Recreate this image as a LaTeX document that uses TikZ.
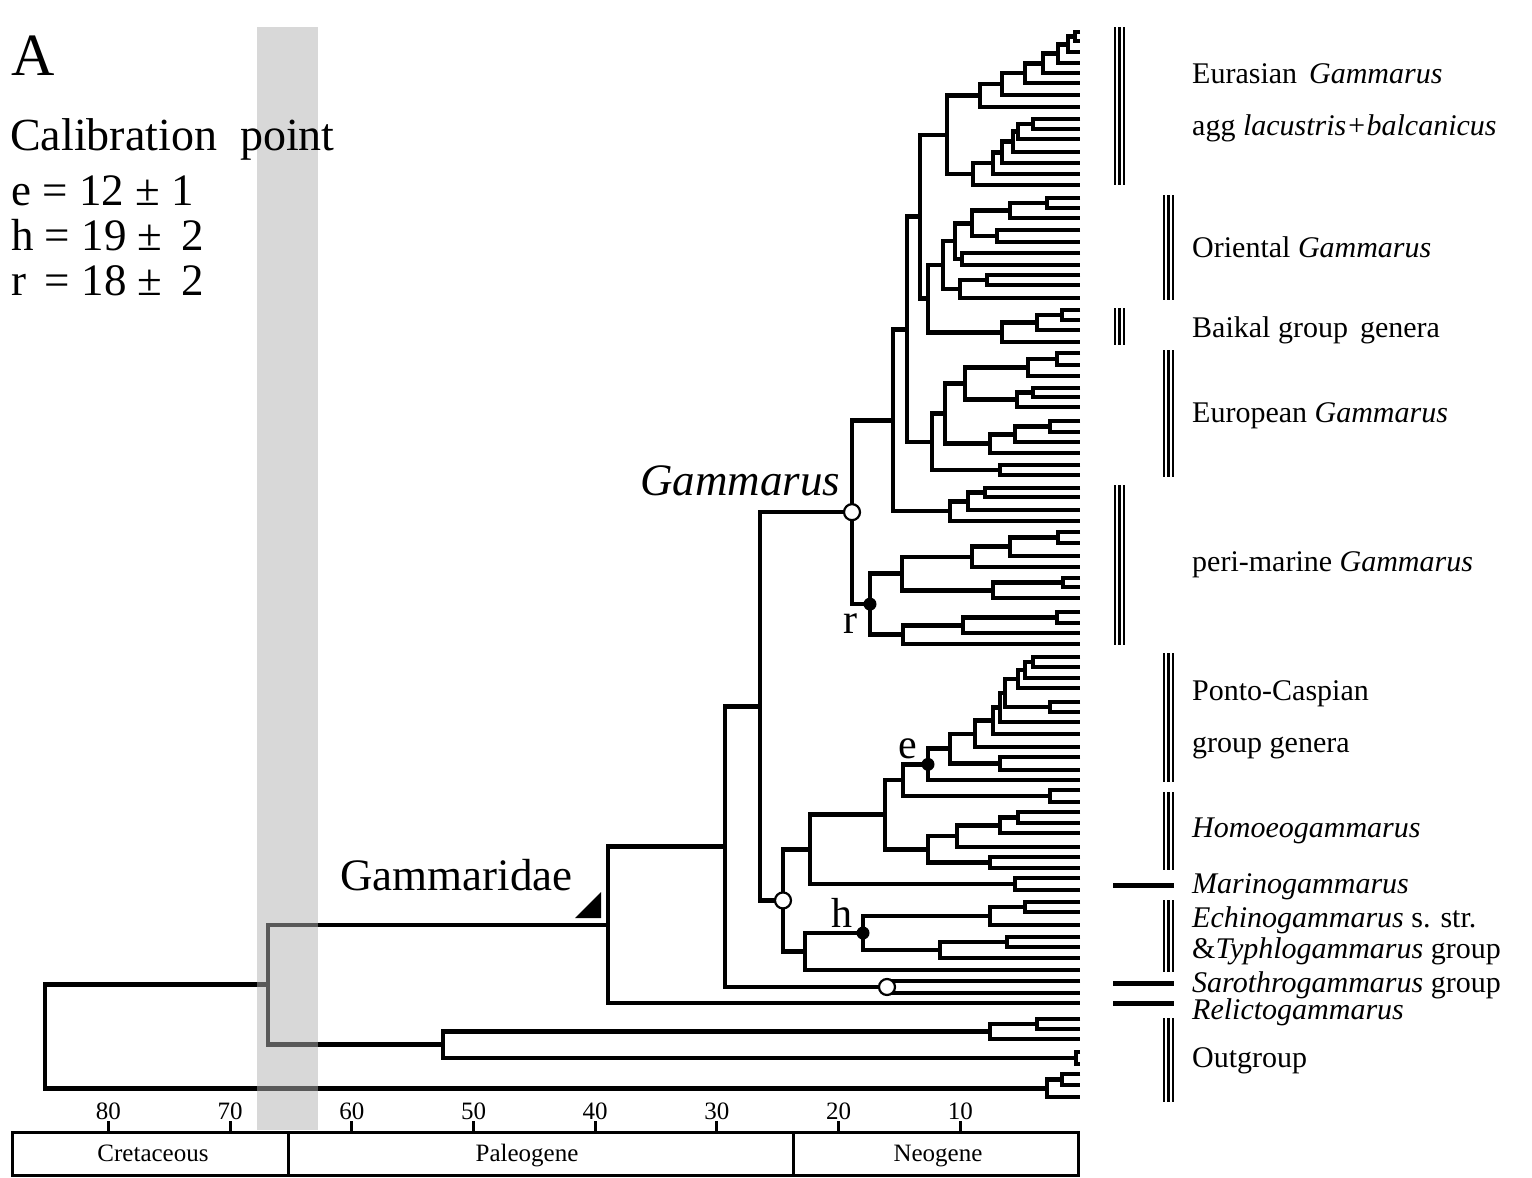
\documentclass[tikz,border=0pt]{standalone}
\usepackage{fontspec}
\setmainfont{Liberation Serif}
\usetikzlibrary{calc}
\newcommand\myfs[1]{\fontsize{#1}{#1}\selectfont}
\definecolor{bandc}{gray}{0.70}
% internal tree node: name, x, upper child, lower child
\newcommand\inode[4]{%
  \path let \p1=(#3), \p2=(#4) in coordinate (#1) at ({#2pt},{(\y1+\y2)/2});
  \draw[br] (#3) -- (#1 |- #3) -- (#1 |- #4) -- (#4);
}
\newcommand\tribar[3]{\foreach \dx in {0,4.5,9} \draw[barl] ({#1+\dx},#2) -- ({#1+\dx},#3);}
\begin{document}
\begin{tikzpicture}[x=1pt,y=-1pt,
  br/.style={line width=4.6pt, line join=miter},
  barl/.style={line width=2.2pt},
  hbar/.style={line width=5pt},
  lab/.style={anchor=base west, inner sep=0pt, font=\myfs{30}},
  big/.style={anchor=base west, inner sep=0pt, font=\myfs{45}},
  opencirc/.style={circle, draw, fill=white, line width=2.2pt, minimum size=16pt, inner sep=0pt},
  fillcirc/.style={circle, fill=black, minimum size=13pt, inner sep=0pt},
  axl/.style={line width=3pt},
  tickl/.style={line width=3pt},
  ticklab/.style={anchor=base, inner sep=0pt, font=\myfs{25}}]
\useasboundingbox (0,0) rectangle (1532,1178);
\fill[white] (0,0) rectangle (1532,1178);

% tips
\foreach \y in {32,41,52,63,73,83,95,107,119,129,139,152,163,174,185,
  198,208,218,230,242,253,265,275,285,298,310,320,330,342,
  353,365,376,388,397,407,421,432,442,453,465,475,488,497,510,521,
  532,543,556,567,578,587,598,612,623,633,644,
  657,667,678,688,702,712,722,734,747,757,770,780,790,802,
  812,823,833,847,857,868,878,890,902,912,925,937,947,958,970,
  981,993,1003,1019,1029,1039,1052,1064,1074,1085,1097}
  \coordinate (t\y) at (1080,\y);

% Eurasian
\inode{A6}{1075}{t32}{t41}
\inode{A5}{1068}{A6}{t52}
\inode{A4}{1058}{A5}{t63}
\inode{A3}{1043}{A4}{t73}
\inode{A2}{1025}{A3}{t83}
\inode{A1}{1002}{A2}{t95}
\inode{A0}{980}{A1}{t107}
\inode{L5}{1033}{t119}{t129}
\inode{L4}{1018}{L5}{t139}
\inode{L3}{1013}{L4}{t152}
\inode{L2}{1002}{L3}{t163}
\inode{L1}{993}{L2}{t174}
\inode{L0}{973}{L1}{t185}
\inode{EU}{947}{A0}{L0}
% Oriental
\inode{O1}{1047}{t198}{t208}
\inode{O2}{1010}{O1}{t218}
\inode{O3}{997}{t230}{t242}
\inode{O4}{972}{O2}{O3}
\inode{O5}{962}{t253}{t265}
\inode{O6}{955}{O4}{O5}
\inode{O7}{987}{t275}{t285}
\inode{O8}{960}{O7}{t298}
\inode{O9}{943}{O6}{O8}
% Baikal
\inode{B1}{1062}{t310}{t320}
\inode{B2}{1037}{B1}{t330}
\inode{B3}{1002}{B2}{t342}
\inode{OB}{928}{O9}{B3}
\inode{N920}{920}{EU}{OB}
% European
\inode{E1}{1057}{t353}{t365}
\inode{E2}{1028}{E1}{t376}
\inode{E3}{1033}{t388}{t397}
\inode{E4}{1017}{E3}{t407}
\inode{E5}{965}{E2}{E4}
\inode{E6}{1050}{t421}{t432}
\inode{E7}{1015}{E6}{t442}
\inode{E8}{990}{E7}{t453}
\inode{E9}{945}{E5}{E8}
\inode{E10}{1000}{t465}{t475}
\inode{E11}{932}{E9}{E10}
\inode{N907}{907}{N920}{E11}
% small clade
\inode{S1}{985}{t488}{t497}
\inode{S2}{968}{S1}{t510}
\inode{S3}{950}{S2}{t521}
\inode{N893}{893}{N907}{S3}
% r clade
\inode{R1}{1058}{t532}{t543}
\inode{R2}{1010}{R1}{t556}
\inode{R3}{972}{R2}{t567}
\inode{R4}{1063}{t578}{t587}
\inode{R5}{993}{R4}{t598}
\inode{R6}{902}{R3}{R5}
\inode{R7}{1057}{t612}{t623}
\inode{R8}{963}{R7}{t633}
\inode{R9}{903}{R8}{t644}
\inode{Rn}{870}{R6}{R9}
\inode{GAM}{852}{N893}{Rn}
% Ponto-Caspian
\inode{P1}{1033}{t657}{t667}
\inode{P2}{1025}{P1}{t678}
\inode{P3}{1018}{P2}{t688}
\inode{P4}{1050}{t702}{t712}
\inode{P5}{1005}{P3}{P4}
\inode{P6}{1000}{P5}{t722}
\inode{P7}{993}{P6}{t734}
\inode{P8}{975}{P7}{t747}
\inode{P9}{1000}{t757}{t770}
\inode{P10}{950}{P8}{P9}
\inode{Pe}{928}{P10}{t780}
\inode{P11}{1050}{t790}{t802}
\inode{P12}{903}{Pe}{P11}
% Homoeogammarus
\inode{H1}{1018}{t812}{t823}
\inode{H2}{1000}{H1}{t833}
\inode{H3}{957}{H2}{t847}
\inode{H4}{990}{t857}{t868}
\inode{H5}{928}{H3}{H4}
\inode{N885}{885}{P12}{H5}
\inode{Ma}{1015}{t878}{t890}
\inode{N810}{810}{N885}{Ma}
% Echinogammarus
\inode{Ec1}{1025}{t902}{t912}
\inode{Ec2}{990}{Ec1}{t925}
\inode{Ec3}{1007}{t937}{t947}
\inode{Ec4}{940}{Ec3}{t958}
\inode{Hn}{863}{Ec2}{Ec4}
\inode{Ec5}{805}{Hn}{t970}
\inode{C2}{783}{N810}{Ec5}
\inode{N760}{760}{GAM}{C2}
\inode{Sa}{887}{t981}{t993}
\inode{N725}{725}{N760}{Sa}
\inode{N608}{608}{N725}{t1003}
% Outgroup
\inode{Oa}{1037}{t1019}{t1029}
\inode{Ob}{990}{Oa}{t1039}
\inode{Oc}{1076}{t1052}{t1064}
\inode{Od}{443}{Ob}{Oc}
\inode{G268}{268}{N608}{Od}
\inode{Oe}{1062}{t1074}{t1085}
\inode{Of}{1047}{Oe}{t1097}
\inode{root}{45}{G268}{Of}

% node markers
\node[opencirc] (cg) at (GAM) {};
\node[opencirc] (cc2) at (C2) {};
\node[opencirc] (csa) at (Sa) {};
\node[fillcirc] (cr) at (Rn) {};
\node[fillcirc] (ce) at (Pe) {};
\node[fillcirc] (ch) at (Hn) {};
\fill (575,918) -- (601,918) -- (601,892) -- cycle;

% grey band
\fill[bandc, opacity=0.5] (257,27) rectangle (318,1130);

% node labels
\node[inner sep=0pt, anchor=base west, font=\myfs{45}\itshape] (lgam) at (640,495) {Gammarus};
\node[big] (lgdae) at (340,890) {Gammaridae};
\node[anchor=base west, inner sep=0pt, font=\myfs{42}] (le) at (898,758) {e};
\node[anchor=base west, inner sep=0pt, font=\myfs{42}] (lh) at (831,927) {h};
\node[anchor=base west, inner sep=0pt, font=\myfs{42}] (lr) at (843,633) {r};

% left texts
\node[anchor=base west, inner sep=0pt, font=\myfs{60}] (lA) at (11,75) {A};
\node[big, font=\myfs{46}] (lcal) at (10,150) {Calibration\hspace{0.5em}point};
\node[big] (lce) at (11,205) {e = 12 ± 1};
\node[big] (lch) at (11,250) {h = 19 ± \,2};
\node[big] (lcr) at (11,295) {r \,= 18 ± \,2};

% group bars
\tribar{1115}{27}{185}
\tribar{1164}{195}{300}
\tribar{1115}{308}{345}
\tribar{1164}{350}{477}
\tribar{1115}{485}{645}
\tribar{1164}{653}{782}
\tribar{1164}{792}{870}
\tribar{1164}{900}{972}
\tribar{1164}{1018}{1102}
\draw[hbar] (1113,885.5) -- (1174,885.5);
\draw[hbar] (1113,983.5) -- (1174,983.5);
\draw[hbar] (1113,1003) -- (1174,1003);

% group labels
\node[lab] (g1) at (1192,83) {Eurasian\hspace{0.4em}\textit{Gammarus}};
\node[lab] (g2) at (1192,135) {agg \textit{lacustris+balcanicus}};
\node[lab] (g3) at (1192,257) {Oriental \textit{Gammarus}};
\node[lab] (g4) at (1192,337) {Baikal group\hspace{0.4em}genera};
\node[lab] (g5) at (1192,422) {European \textit{Gammarus}};
\node[lab] (g6) at (1192,571) {peri-marine \textit{Gammarus}};
\node[lab] (g7) at (1192,700) {Ponto-Caspian};
\node[lab] (g8) at (1192,752) {group genera};
\node[lab] (g9) at (1192,837) {\textit{Homoeogammarus}};
\node[lab] (g10) at (1192,893) {\textit{Marinogammarus}};
\node[lab] (g11) at (1192,927) {\textit{Echinogammarus} s. str.};
\node[lab] (g12) at (1192,958) {\&\textit{Typhlogammarus} group};
\node[lab] (g13) at (1192,992) {\textit{Sarothrogammarus} group};
\node[lab] (g14) at (1192,1019) {\textit{Relictogammarus}};
\node[lab] (g15) at (1192,1067) {Outgroup};

% time axis
\draw[axl] (12,1132) rectangle (1078,1175);
\draw[axl] (288,1132) -- (288,1175);
\draw[axl] (793,1132) -- (793,1175);
\foreach \t in {80,70,60,50,40,30,20,10} {
  \draw[tickl] ({1082-12.17*\t},1121) -- ({1082-12.17*\t},1132);
  \node[ticklab] (tk\t) at ({1082-12.17*\t},1119) {\t};
}
\node[ticklab] (pcre) at (153,1161) {Cretaceous};
\node[ticklab] (ppal) at (527,1161) {Paleogene};
\node[ticklab] (pneo) at (938,1161) {Neogene};
\end{tikzpicture}
\end{document}
